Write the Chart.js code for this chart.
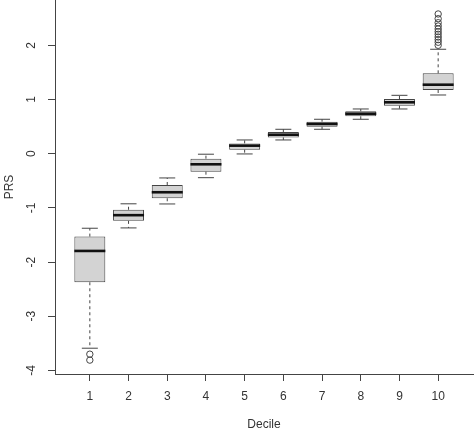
<!DOCTYPE html>
<html>
<head>
<meta charset="utf-8">
<script src="https://cdn.jsdelivr.net/npm/chart.js@4/dist/chart.umd.min.js"></script>
<style>
  html, body { margin: 0; padding: 0; background: #ffffff; }
  #wrap { width: 474px; height: 430px; }
</style>
</head>
<body>
<div id="wrap"><canvas id="c" width="474" height="430"></canvas></div>
<script>
// ---- data ----
const deciles   = [1, 2, 3, 4, 5, 6, 7, 8, 9, 10];
const whiskerLo = [-3.59, -1.37, -0.928, -0.443, -0.005, 0.253, 0.45, 0.635, 0.825, 1.083];
const q1        = [-2.373, -1.24, -0.823, -0.332, 0.074, 0.30, 0.498, 0.69, 0.886, 1.175];
const medians   = [-1.795, -1.135, -0.712, -0.196, 0.148, 0.35, 0.548, 0.738, 0.948, 1.273];
const q3        = [-1.53, -1.035, -0.578, -0.092, 0.19, 0.40, 0.59, 0.782, 1.009, 1.483];
const whiskerHi = [-1.376, -0.925, -0.448, -0.01, 0.253, 0.45, 0.635, 0.825, 1.077, 1.927];
const outlierDecile = [1, 1, 10, 10, 10, 10, 10, 10, 10, 10, 10, 10, 10];
const outlierValue  = [-3.70, -3.81, 2.578, 2.491, 2.417, 2.356, 2.301, 2.251, 2.203, 2.153, 2.104, 2.056, 2.0];
const yTickValues = [-4, -3, -2, -1, 0, 1, 2];
const xTickValues = deciles;
const xTitle = 'Decile';
const yTitle = 'PRS';

// ---- build datasets ----
const boxData = deciles.map((d, i) => ({ x: d, y: [q1[i], q3[i]] }));
const medData = deciles.map((d, i) => ({ x: d, y: medians[i] }));
const capData = [];
deciles.forEach((d, i) => { capData.push({ x: d, y: whiskerLo[i] }); capData.push({ x: d, y: whiskerHi[i] }); });
const whiskData = [];
deciles.forEach((d, i) => {
  whiskData.push({ x: d, y: q3[i] }, { x: d, y: whiskerHi[i] }, { x: d, y: null });
  whiskData.push({ x: d, y: q1[i] }, { x: d, y: whiskerLo[i] }, { x: d, y: null });
});
const outData = outlierDecile.map((d, i) => ({ x: d, y: outlierValue[i] }));

const lineCol = '#444444';
const textCol = '#333333';
const font = { family: '"Liberation Sans", Arial, Helvetica, sans-serif', size: 12 };

function noPad(s) { s.paddingTop = 0; s.paddingBottom = 0; s.paddingLeft = 0; s.paddingRight = 0; }

new Chart(document.getElementById('c'), {
  type: 'bar',
  data: {
    datasets: [
      { type: 'line', data: whiskData, borderColor: lineCol, borderWidth: 1, borderDash: [3, 3],
        pointRadius: 0, spanGaps: false, fill: false, order: 4 },
      { type: 'scatter', data: capData, pointStyle: 'line', pointRadius: 8, pointBorderWidth: 1,
        borderColor: lineCol, pointBorderColor: lineCol, order: 3 },
      { type: 'bar', data: boxData, backgroundColor: '#d3d3d3', borderColor: lineCol, borderWidth: 1,
        borderSkipped: false, barPercentage: 0.8, categoryPercentage: 1.0, order: 2 },
      { type: 'scatter', data: medData, pointStyle: 'line', pointRadius: 15.5, pointBorderWidth: 2.6,
        borderColor: '#111111', pointBorderColor: '#111111', order: 1 },
      { type: 'scatter', data: outData, pointStyle: 'circle', pointRadius: 3.2, pointBorderWidth: 1,
        pointBorderColor: lineCol, borderColor: lineCol, pointBackgroundColor: 'rgba(0,0,0,0)',
        backgroundColor: 'rgba(0,0,0,0)', order: 0 }
    ]
  },
  options: {
    responsive: false,
    animation: false,
    devicePixelRatio: 1,
    layout: { autoPadding: false, padding: { left: 0, right: 1, top: 0, bottom: 0 } },
    plugins: { legend: { display: false }, tooltip: { enabled: false } },
    scales: {
      x: {
        type: 'linear', min: 0.1, max: 10.9, offset: false,
        afterBuildTicks: s => { s.ticks = xTickValues.map(v => ({ value: v })); },
        afterFit: s => { s.height = 56; noPad(s); },
        grid: { display: true, offset: false, drawOnChartArea: false, drawTicks: true, tickLength: 7, tickColor: lineCol, tickWidth: 1 },
        border: { display: true, color: lineCol, width: 1 },
        ticks: { color: textCol, font: font, padding: 8.8, maxRotation: 0, autoSkip: false,
                 callback: v => String(v) },
        title: { display: true, text: xTitle, color: textCol, font: font, padding: { top: 0, bottom: -2 } }
      },
      y: {
        type: 'linear', min: -4.066, max: 2.836,
        afterBuildTicks: s => { s.ticks = yTickValues.map(v => ({ value: v })); },
        afterFit: s => { s.width = 55; noPad(s); },
        grid: { display: true, drawOnChartArea: false, drawTicks: true, tickLength: 7, tickColor: lineCol, tickWidth: 1 },
        border: { display: true, color: lineCol, width: 1 },
        ticks: { color: textCol, font: font, padding: 11.2, minRotation: 90, maxRotation: 90,
                 crossAlign: 'center', autoSkip: false, callback: v => String(v) },
        title: { display: true, text: yTitle, color: textCol, font: font, padding: { top: 2, bottom: 0 } }
      }
    }
  }
});
</script>
</body>
</html>
